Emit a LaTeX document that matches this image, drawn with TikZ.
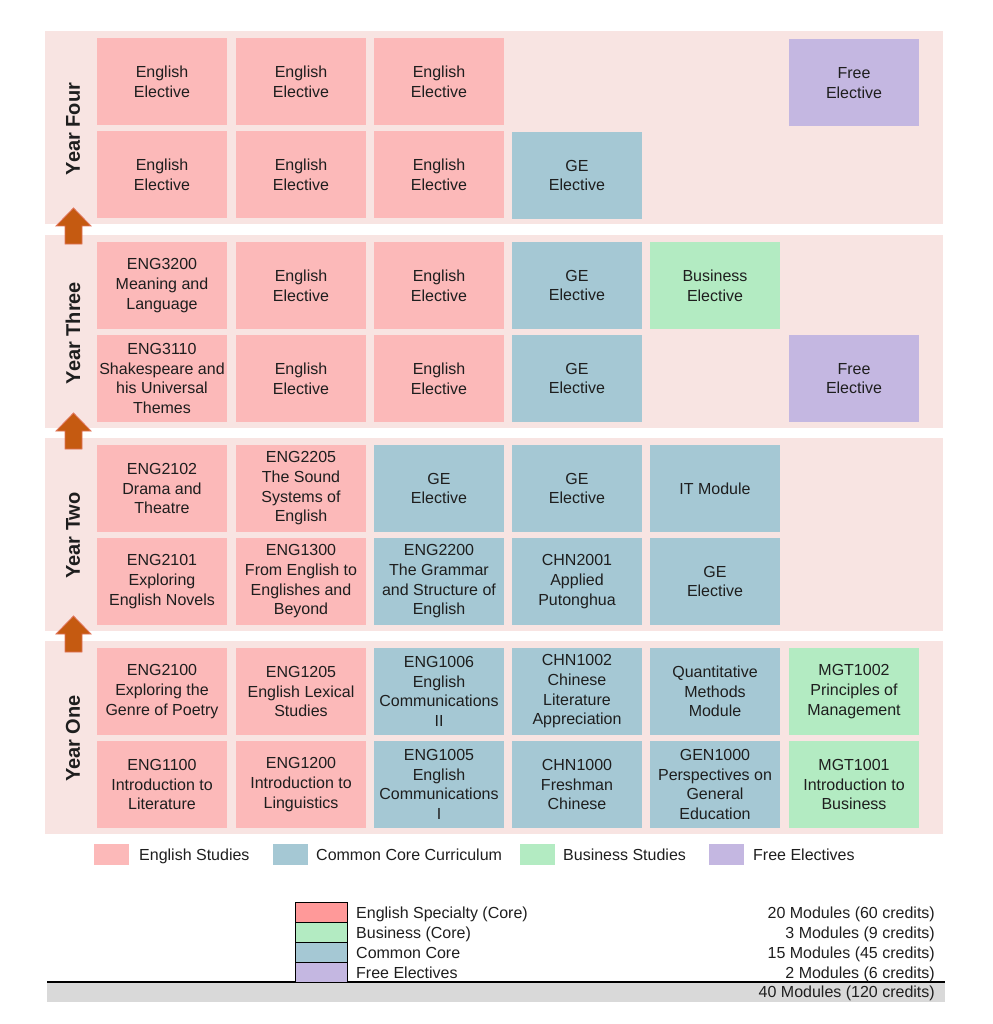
\documentclass[tikz,border=0pt]{standalone}
\usepackage{fontspec}
\setmainfont{Liberation Sans}
\definecolor{bandbg}{HTML}{F8E4E2}
\definecolor{engpink}{HTML}{FCB9B9}
\definecolor{ccblue}{HTML}{A5C8D4}
\definecolor{busgreen}{HTML}{B3EBC2}
\definecolor{freepurple}{HTML}{C4B7E1}
\definecolor{corered}{HTML}{FF9999}
\definecolor{arrowfill}{HTML}{C55A11}
\definecolor{arrowline}{HTML}{E0735A}
\definecolor{txt}{HTML}{1E1E1E}
\definecolor{totalgray}{HTML}{D9D9D9}
\tikzset{
  band/.style={fill=bandbg, minimum width=898pt, minimum height=193pt, inner sep=0pt},
  module/.style={minimum width=130pt, minimum height=87pt, inner sep=0pt, align=center,
    font=\fontsize{16}{19.7}\selectfont, text=txt},
  eng/.style={module, fill=engpink},
  cc/.style={module, fill=ccblue},
  bus/.style={module, fill=busgreen},
  free/.style={module, fill=freepurple},
  yearlbl/.style={rotate=90, font=\fontsize{20}{24}\selectfont\bfseries, text=txt, inner sep=0pt},
  blockarrow/.style={fill=arrowfill, draw=arrowline, line width=0.8pt},
  swatch/.style={minimum width=35pt, minimum height=21pt, inner sep=0pt},
  legtxt/.style={anchor=west, inner sep=0pt, text height=11.5pt, text depth=3.5pt,
    font=\fontsize{16}{19}\selectfont, text=txt},
  keybox/.style={draw=black, line width=0.8pt, minimum width=52pt, minimum height=20pt, inner sep=0pt},
  keytxt/.style={inner sep=0pt, text height=11.5pt, text depth=3.5pt,
    font=\fontsize{16}{19}\selectfont, text=txt}
}
\newcommand\blockuparrow[1]{%
  \path[blockarrow] (73.5,#1) -- (91,#1+18) -- (82,#1+18) -- (82,#1+36) -- (65,#1+36)
    -- (65,#1+18) -- (56,#1+18) -- cycle;}
\begin{document}
\begin{tikzpicture}[x=1pt,y=-1pt]
\useasboundingbox (0,0) rectangle (992,1024);
% bands
\node[band] (band4) at (494,127.5) {};
\node[band] (band3) at (494,331.5) {};
\node[band] (band2) at (494,534.5) {};
\node[band] (band1) at (494,737.5) {};
% year labels
\node[yearlbl] (lbl4) at (73,129) {Year Four};
\node[yearlbl] (lbl3) at (73,333) {Year Three};
\node[yearlbl] (lbl2) at (73,535.5) {Year Two};
\node[yearlbl] (lbl1) at (73,738.5) {Year One};
% arrows
\blockuparrow{208}
\blockuparrow{413}
\blockuparrow{616}
% Year Four
\node[eng] (a11) at (162,81.5) {English\\Elective};
\node[eng] (a12) at (301,81.5) {English\\Elective};
\node[eng] (a13) at (439,81.5) {English\\Elective};
\node[free] (a16) at (854,83) {Free\\Elective};
\node[eng] (a21) at (162,174.5) {English\\Elective};
\node[eng] (a22) at (301,174.5) {English\\Elective};
\node[eng] (a23) at (439,174.5) {English\\Elective};
\node[cc] (a24) at (577,175.5) {GE\\Elective};
% Year Three
\node[eng] (b11) at (162,285.5) {ENG3200\\Meaning and\\Language};
\node[eng] (b12) at (301,285.5) {English\\Elective};
\node[eng] (b13) at (439,285.5) {English\\Elective};
\node[cc] (b14) at (577,285.5) {GE\\Elective};
\node[bus] (b15) at (715,285.5) {Business\\Elective};
\node[eng] (b21) at (162,378.5) {ENG3110\\Shakespeare and\\his Universal\\Themes};
\node[eng] (b22) at (301,378.5) {English\\Elective};
\node[eng] (b23) at (439,378.5) {English\\Elective};
\node[cc] (b24) at (577,378.5) {GE\\Elective};
\node[free] (b26) at (854,378.5) {Free\\Elective};
% Year Two
\node[eng] (c11) at (162,488.5) {ENG2102\\Drama and\\Theatre};
\node[eng] (c12) at (301,488.5) {ENG2205\\The Sound\\Systems of\\English};
\node[cc] (c13) at (439,488.5) {GE\\Elective};
\node[cc] (c14) at (577,488.5) {GE\\Elective};
\node[cc] (c15) at (715,488.5) {IT Module};
\node[eng] (c21) at (162,581.5) {ENG2101\\Exploring\\English Novels};
\node[eng] (c22) at (301,581.5) {ENG1300\\From English to\\Englishes and\\Beyond};
\node[cc] (c23) at (439,581.5) {ENG2200\\The Grammar\\and Structure of\\English};
\node[cc] (c24) at (577,581.5) {CHN2001\\Applied\\Putonghua};
\node[cc] (c25) at (715,581.5) {GE\\Elective};
% Year One
\node[eng] (d11) at (162,691.5) {ENG2100\\Exploring the\\Genre of Poetry};
\node[eng] (d12) at (301,691.5) {ENG1205\\English Lexical\\Studies};
\node[cc] (d13) at (439,691.5) {ENG1006\\English\\Communications\\II};
\node[cc] (d14) at (577,691.5) {CHN1002\\Chinese\\Literature\\Appreciation};
\node[cc] (d15) at (715,691.5) {Quantitative\\Methods\\Module};
\node[bus] (d16) at (854,691.5) {MGT1002\\Principles of\\Management};
\node[eng] (d21) at (162,784.5) {ENG1100\\Introduction to\\Literature};
\node[eng] (d22) at (301,784.5) {ENG1200\\Introduction to\\Linguistics};
\node[cc] (d23) at (439,784.5) {ENG1005\\English\\Communications\\I};
\node[cc] (d24) at (577,784.5) {CHN1000\\Freshman\\Chinese};
\node[cc] (d25) at (715,784.5) {GEN1000\\Perspectives on\\General\\Education};
\node[bus] (d26) at (854,784.5) {MGT1001\\Introduction to\\Business};
% legend
\node[swatch, fill=engpink] (sw1) at (111.5,854.5) {};
\node[legtxt] (lt1) at (139,856) {English Studies};
\node[swatch, fill=ccblue] (sw2) at (290,854.5) {};
\node[legtxt] (lt2) at (316,856) {Common Core Curriculum};
\node[swatch, fill=busgreen] (sw3) at (537,854.5) {};
\node[legtxt] (lt3) at (563,856) {Business Studies};
\node[swatch, fill=freepurple] (sw4) at (726,854.5) {};
\node[legtxt] (lt4) at (753,856) {Free Electives};
% credit table
\fill[totalgray] (47,983) rectangle (945,1002);
\coordinate (ruleL) at (47,982);
\coordinate (ruleR) at (945,982);
\draw[line width=1.3pt] (ruleL) -- (ruleR);
\node[keybox, fill=corered] (k1) at (321,912) {};
\node[keybox, fill=busgreen] (k2) at (321,932) {};
\node[keybox, fill=ccblue] (k3) at (321,952) {};
\node[keybox, fill=freepurple] (k4) at (321,972) {};
\node[keytxt, anchor=west] (kt1) at (356,914) {English Specialty (Core)};
\node[keytxt, anchor=west] (kt2) at (356,934) {Business (Core)};
\node[keytxt, anchor=west] (kt3) at (356,954) {Common Core};
\node[keytxt, anchor=west] (kt4) at (356,974) {Free Electives};
\node[keytxt, anchor=east] (kc1) at (935,914) {20 Modules (60 credits)};
\node[keytxt, anchor=east] (kc2) at (935,934) {3 Modules (9 credits)};
\node[keytxt, anchor=east] (kc3) at (935,954) {15 Modules (45 credits)};
\node[keytxt, anchor=east] (kc4) at (935,974) {2 Modules (6 credits)};
\node[keytxt, anchor=east] (kc5) at (935,993.5) {40 Modules (120 credits)};
\end{tikzpicture}
\end{document}
